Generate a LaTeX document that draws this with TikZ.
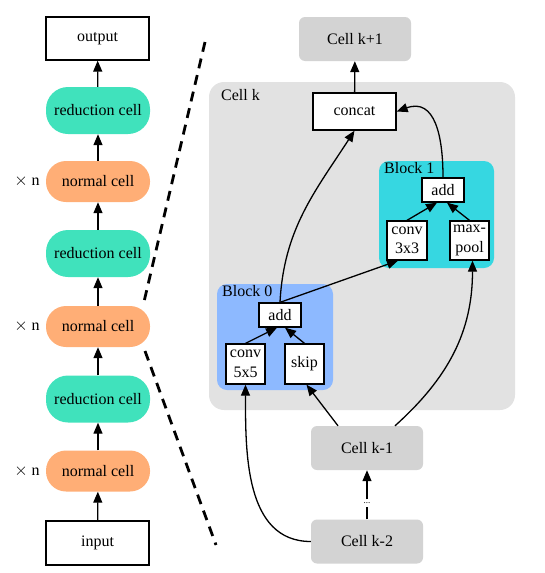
\documentclass[tikz,border=0pt]{standalone}
\usepackage{fontspec}
\setmainfont{Liberation Serif}
\usetikzlibrary{arrows.meta}

\definecolor{redcol}{HTML}{40E2BC}
\definecolor{normcol}{HTML}{FFAE76}
\definecolor{cellgray}{HTML}{D3D3D3}
\definecolor{clustgray}{HTML}{E2E2E2}
\definecolor{blockzero}{HTML}{8DB9FF}
\definecolor{blockone}{HTML}{36D7E1}

\begin{document}
\begin{tikzpicture}[x=1pt,y=-1pt,
  font=\fontsize{16}{19.5}\selectfont,
  >={Triangle[length=11pt,width=9pt]}]
\tikzstyle{every node}+=[inner sep=0pt]
\tikzstyle{edge}=[line width=1.3pt,->]
\tikzstyle{boxed}=[draw,line width=1.3pt,fill=white,align=center]
\tikzstyle{redcell}=[fill=redcol,rounded corners=22pt,minimum width=104,minimum height=47]
\tikzstyle{normcell}=[fill=normcol,rounded corners=20pt,minimum width=104,minimum height=41]
\tikzstyle{grayop}=[fill=cellgray,rounded corners=6pt,minimum width=112,minimum height=44]
\useasboundingbox (0,0) rectangle (545,573);

% left stack
\node [boxed,minimum width=103,minimum height=43] (output) at (97.5,38.5) {output};
\node [redcell] (red1) at (98,110.5) {reduction cell};
\node [normcell] (norm1) at (98,181.5) {normal cell};
\node [redcell] (red2) at (98,253.5) {reduction cell};
\node [normcell] (norm2) at (98,326.5) {normal cell};
\node [redcell] (red3) at (98,399) {reduction cell};
\node [normcell] (norm3) at (98,471) {normal cell};
\node [boxed,minimum width=103,minimum height=44] (input) at (97.5,543) {input};
\node (times1) at (27,181.5) {$\times$ n};
\node (times2) at (27,326.5) {$\times$ n};
\node (times3) at (27,471) {$\times$ n};
\draw [edge] (input) -- (norm3);
\draw [edge] (norm3) -- (red3);
\draw [edge] (red3) -- (norm2);
\draw [edge] (norm2) -- (red2);
\draw [edge] (red2) -- (norm1);
\draw [edge] (norm1) -- (red1);
\draw [edge] (red1) -- (output);

% zoom lines
\draw [line width=2.8pt,dash pattern=on 10pt off 7pt] (205,42) -- (143,306);
\draw [line width=2.8pt,dash pattern=on 10pt off 7pt] (145,351) -- (216,545);

% cell k and its blocks
\fill [clustgray,rounded corners=15pt] (209,82) rectangle (515,410);
\node [anchor=north west] (cellk) at (221,89) {Cell k};
\fill [blockone,rounded corners=10pt] (379,161) rectangle (494,268);
\node [anchor=north west] (blk1) at (384,162) {Block 1};
\fill [blockzero,rounded corners=10pt] (217,284) rectangle (333,390);
\node [anchor=north west] (blk0) at (222,285) {Block 0};

\node [grayop] (ckplus) at (355,39) {Cell k+1};
\node [boxed,minimum width=83,minimum height=37] (concat) at (354.5,111.5) {concat};
\node [boxed,minimum width=42,minimum height=24] (add1) at (443,190) {add};
\node [boxed,minimum width=40,minimum height=39] (conv3) at (407,240.5) {conv\\3x3};
\node [boxed,minimum width=39,minimum height=39] (pool) at (469.5,240.5) {max-\\pool};
\node [boxed,minimum width=42,minimum height=24] (add0) at (280,315) {add};
\node [boxed,minimum width=39,minimum height=40] (conv5) at (245.5,364) {conv\\5x5};
\node [boxed,minimum width=39,minimum height=40] (skip) at (304.5,364) {skip};
\node [grayop] (ckone) at (367,448) {Cell k-1};
\node [grayop] (cktwo) at (367,541.5) {Cell k-2};
\node [font=\fontsize{9}{9}\selectfont,inner ysep=3pt] (dots) at (367,503) {...};

\draw [edge] (concat) -- (ckplus);
\draw [edge] (add1.north) to[out=90,in=20,looseness=1.3] (concat.east);
\draw [edge] (add0.north) to[out=87,in=237] (concat.south);
\draw [edge] (add0.north) -- ([xshift=-9]conv3.south);
\draw [edge] (conv3.north) -- ([xshift=-6]add1.south);
\draw [edge] (pool.north) -- ([xshift=4]add1.south);
\draw [edge] (conv5.north) -- ([xshift=-3]add0.south);
\draw [edge] (skip.north) -- ([xshift=5]add0.south);
\draw [edge] ([xshift=-29]ckone.north) -- ([xshift=2]skip.south);
\draw [edge] ([xshift=28]ckone.north) to[out=42,in=-90] ([xshift=3]pool.south);
\draw [edge] (cktwo.west) to[out=180,in=-90] (conv5.south);
\draw [line width=1.3pt] (cktwo.north) -- (dots.south);
\draw [edge] (dots.north) -- (ckone.south);
\end{tikzpicture}
\end{document}
